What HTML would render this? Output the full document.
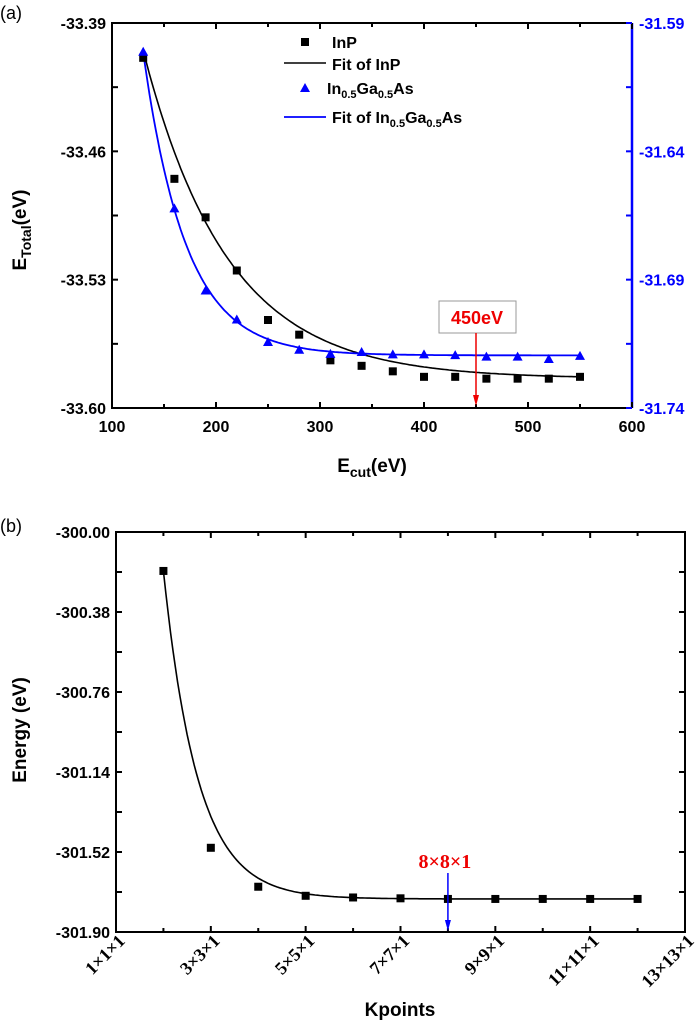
<!DOCTYPE html>
<html><head><meta charset="utf-8"><style>
html,body{margin:0;padding:0;background:#fff;}
svg{display:block;font-family:"Liberation Sans",Arial,sans-serif;}
</style></head><body>
<svg id="fig" width="700" height="1022" viewBox="0 0 700 1022" xmlns="http://www.w3.org/2000/svg"></svg>
<script>
// ---- Panel (a) data ----
const ecut = [130,160,190,220,250,280,310,340,370,400,430,460,490,520,550];
const inpE = [-33.409,-33.475,-33.496,-33.525,-33.552,-33.560,-33.574,-33.577,-33.580,-33.583,-33.583,-33.584,-33.584,-33.584,-33.583];
const ingaE = [-31.6012,-31.6622,-31.6942,-31.7055,-31.7143,-31.7173,-31.7189,-31.7182,-31.7191,-31.7191,-31.7194,-31.7200,-31.7200,-31.7209,-31.7197];
// exponential fit params [y0, A, x0, t]
const inpFit = [-33.584, 0.179, 130, 81];
const ingaFit = [-31.7195, 0.118, 130, 41];
const aLeftTicks = [-33.39,-33.46,-33.53,-33.60];
const aRightTicks = [-31.59,-31.64,-31.69,-31.74];
const aXTicks = [100,200,300,400,500,600];
const aMarker = [450];
// ---- Panel (b) data ----
const kpts = [2,3,4,5,6,7,8,9,10,11,12];
const kE = [-300.185,-301.500,-301.685,-301.728,-301.736,-301.740,-301.743,-301.743,-301.743,-301.743,-301.743];
const kFit = [-301.743, 1.558, 2, 0.725];
const bYTicks = [-300.00,-300.38,-300.76,-301.14,-301.52,-301.90];
const bXTicks = [1,3,5,7,9,11,13];
const bMarker = [8];

const NS="http://www.w3.org/2000/svg";
const svg=document.getElementById('fig');
function mk(tag,attrs,parent){const e=document.createElementNS(NS,tag);for(const k in attrs)e.setAttribute(k,attrs[k]);(parent||svg).appendChild(e);return e;}

// ===== Panel (a) =====
const ax={l:112,r:632,t:23,b:408};
const xa=v=>ax.l+(v-100)/500*(ax.r-ax.l);
const yL=v=>ax.t+(-33.39-v)/0.21*(ax.b-ax.t);
const yR=v=>ax.t+(-31.59-v)/0.15*(ax.b-ax.t);
const ga=mk('g',{});


let t=mk('text',{x:0,y:19,'font-size':18},ga);t.textContent='(a)';

let fr=mk('path',{d:`M${ax.r},${ax.t}H${ax.l}V${ax.b}H${ax.r}`,fill:'none',stroke:'#000','stroke-width':2},ga);

let ra=mk('line',{x1:ax.r,y1:ax.t,x2:ax.r,y2:ax.b,stroke:'#00f','stroke-width':2.5},ga);

for(let v=100;v<=600;v+=50){const X=xa(v);const len=(v%100===0)?6:4;
 mk('line',{x1:X,y1:ax.b,x2:X,y2:ax.b-len,stroke:'#000','stroke-width':2},ga);
 mk('line',{x1:X,y1:ax.t,x2:X,y2:ax.t+len,stroke:'#000','stroke-width':2},ga);}
aXTicks.forEach(v=>{const e=mk('text',{x:xa(v),y:432,'text-anchor':'middle','font-size':16,'font-weight':'bold'},ga);e.textContent=v;
 });
for(let i=0;i<=6;i++){const Y=ax.t+i*(ax.b-ax.t)/6;
 mk('line',{x1:ax.l,y1:Y,x2:ax.l+6,y2:Y,stroke:'#000','stroke-width':2},ga);
 mk('line',{x1:ax.r,y1:Y,x2:ax.r-6,y2:Y,stroke:'#00f','stroke-width':2},ga);}
aLeftTicks.forEach(v=>{const e=mk('text',{x:106,y:yL(v)+6,'text-anchor':'end','font-size':16,'font-weight':'bold'},ga);e.textContent=v.toFixed(2);
 });
aRightTicks.forEach(v=>{const e=mk('text',{x:639,y:yR(v)+6,'font-size':16,'font-weight':'bold',fill:'#00f'},ga);e.textContent=v.toFixed(2);
 });
t=mk('text',{x:372,y:472,'text-anchor':'middle','font-size':19,'font-weight':'bold'},ga);
t.innerHTML='E<tspan font-size="14" dy="5">cut</tspan><tspan dy="-5">(eV)</tspan>';

t=mk('text',{transform:'translate(26,230) rotate(-90)','text-anchor':'middle','font-size':19,'font-weight':'bold'},ga);
t.innerHTML='E<tspan font-size="14" dy="5">Total</tspan><tspan dy="-5">(eV)</tspan>';

function fitPath(p,x0,x1,fx,fy){let d='';for(let x=x0;x<=x1;x+=2){const y=p[0]+p[1]*Math.exp(-(x-p[2])/p[3]);d+=(d?'L':'M')+fx(x).toFixed(1)+','+fy(y).toFixed(1);}return d;}
let p=mk('path',{d:fitPath(inpFit,130,550,xa,yL),fill:'none',stroke:'#000','stroke-width':1.6},ga);

p=mk('path',{d:fitPath(ingaFit,130,550,xa,yR),fill:'none',stroke:'#00f','stroke-width':1.8},ga);

ecut.forEach((x,i)=>{const r=mk('rect',{x:xa(x)-4,y:yL(inpE[i])-4,width:8,height:8,fill:'#000'},ga);
 
 const X=xa(x),Y=yR(ingaE[i]);
 const tr=mk('path',{d:`M${X},${Y-5}L${X+5},${Y+4}L${X-5},${Y+4}Z`,fill:'#00f'},ga);
 });
const mx=xa(aMarker[0]);
let bx=mk('rect',{x:mx-37,y:301,width:77,height:32,fill:'#fff',stroke:'#999','stroke-width':1},ga);

t=mk('text',{x:mx+1,y:324,'text-anchor':'middle','font-size':18,'font-weight':'bold',fill:'#e00'},ga);t.textContent='450eV';

let ar=mk('line',{x1:mx,y1:333,x2:mx,y2:398,stroke:'#e00','stroke-width':1.5},ga);

mk('path',{d:`M${mx-3},${395}L${mx+3},${395}L${mx},${406}Z`,fill:'#e00'},ga);
const lg=mk('g',{},ga);
mk('rect',{x:301,y:38,width:8,height:8,fill:'#000'},lg);
t=mk('text',{x:332,y:48,'font-size':16,'font-weight':'bold'},lg);t.textContent='InP';
mk('line',{x1:284,y1:63,x2:326,y2:63,stroke:'#000','stroke-width':1.6},lg);
t=mk('text',{x:332,y:70,'font-size':16,'font-weight':'bold'},lg);t.textContent='Fit of InP';
mk('path',{d:'M305,83L310,92L300,92Z',fill:'#00f'},lg);
t=mk('text',{x:327,y:94,'font-size':16,'font-weight':'bold'},lg);
t.innerHTML='In<tspan font-size="11" dy="4">0.5</tspan><tspan dy="-4">Ga</tspan><tspan font-size="11" dy="4">0.5</tspan><tspan dy="-4">As</tspan>';
mk('line',{x1:284,y1:117,x2:326,y2:117,stroke:'#00f','stroke-width':1.8},lg);
t=mk('text',{x:332,y:123,'font-size':16,'font-weight':'bold'},lg);
t.innerHTML='Fit of In<tspan font-size="11" dy="4">0.5</tspan><tspan dy="-4">Ga</tspan><tspan font-size="11" dy="4">0.5</tspan><tspan dy="-4">As</tspan>';

// ===== Panel (b) =====
const bxs={l:116,r:685,t:532,b:932};
const xb=v=>bxs.l+(v-1)/12*(bxs.r-bxs.l);
const yb=v=>bxs.t+(-300-v)/1.9*(bxs.b-bxs.t);
const gb=mk('g',{});
t=mk('text',{x:0,y:532,'font-size':18},gb);t.textContent='(b)';

fr=mk('rect',{x:bxs.l,y:bxs.t,width:bxs.r-bxs.l,height:bxs.b-bxs.t,fill:'none',stroke:'#000','stroke-width':2},gb);

for(let k=1;k<=13;k++){const X=xb(k);const len=(k%2===1)?6:4;
 mk('line',{x1:X,y1:bxs.b,x2:X,y2:bxs.b-len,stroke:'#000','stroke-width':2},gb);
 mk('line',{x1:X,y1:bxs.t,x2:X,y2:bxs.t+len,stroke:'#000','stroke-width':2},gb);}
for(let i=0;i<=10;i++){const Y=bxs.t+i*(bxs.b-bxs.t)/10;
 mk('line',{x1:bxs.l,y1:Y,x2:bxs.l+6,y2:Y,stroke:'#000','stroke-width':2},gb);
 mk('line',{x1:bxs.r,y1:Y,x2:bxs.r-6,y2:Y,stroke:'#000','stroke-width':2},gb);}
bYTicks.forEach(v=>{const e=mk('text',{x:110,y:yb(v)+6,'text-anchor':'end','font-size':16,'font-weight':'bold'},gb);e.textContent=v.toFixed(2);
 });
bXTicks.forEach(k=>{const X=xb(k);const e=mk('text',{transform:`translate(${X+10},${bxs.b+10}) rotate(-45)`,'text-anchor':'end','font-size':18,'font-weight':'bold','font-family':'"Liberation Serif",serif'},gb);
 e.textContent=k+'×'+k+'×1';
 });
t=mk('text',{x:400,y:1016,'text-anchor':'middle','font-size':19,'font-weight':'bold'},gb);t.textContent='Kpoints';

t=mk('text',{transform:'translate(26,730) rotate(-90)','text-anchor':'middle','font-size':19,'font-weight':'bold'},gb);t.textContent='Energy (eV)';

let dk='';for(let k=2;k<=12.001;k+=0.05){const y=kFit[0]+kFit[1]*Math.exp(-(k-kFit[2])/kFit[3]);dk+=(dk?'L':'M')+xb(k).toFixed(1)+','+yb(y).toFixed(1);}
p=mk('path',{d:dk,fill:'none',stroke:'#000','stroke-width':1.6},gb);

kpts.forEach((k,i)=>{const r=mk('rect',{x:xb(k)-4,y:yb(kE[i])-4,width:8,height:8,fill:'#000'},gb);
 });
const kx=xb(bMarker[0]);
t=mk('text',{x:kx-3,y:868,'text-anchor':'middle','font-size':20,'font-weight':'bold',fill:'#e00','font-family':'"Liberation Serif",serif'},gb);t.textContent='8×8×1';

ar=mk('line',{x1:kx,y1:873,x2:kx,y2:922,stroke:'#00f','stroke-width':1.5},gb);

mk('path',{d:`M${kx-3},920L${kx+3},920L${kx},931Z`,fill:'#00f'},gb);
</script>
</body></html>
